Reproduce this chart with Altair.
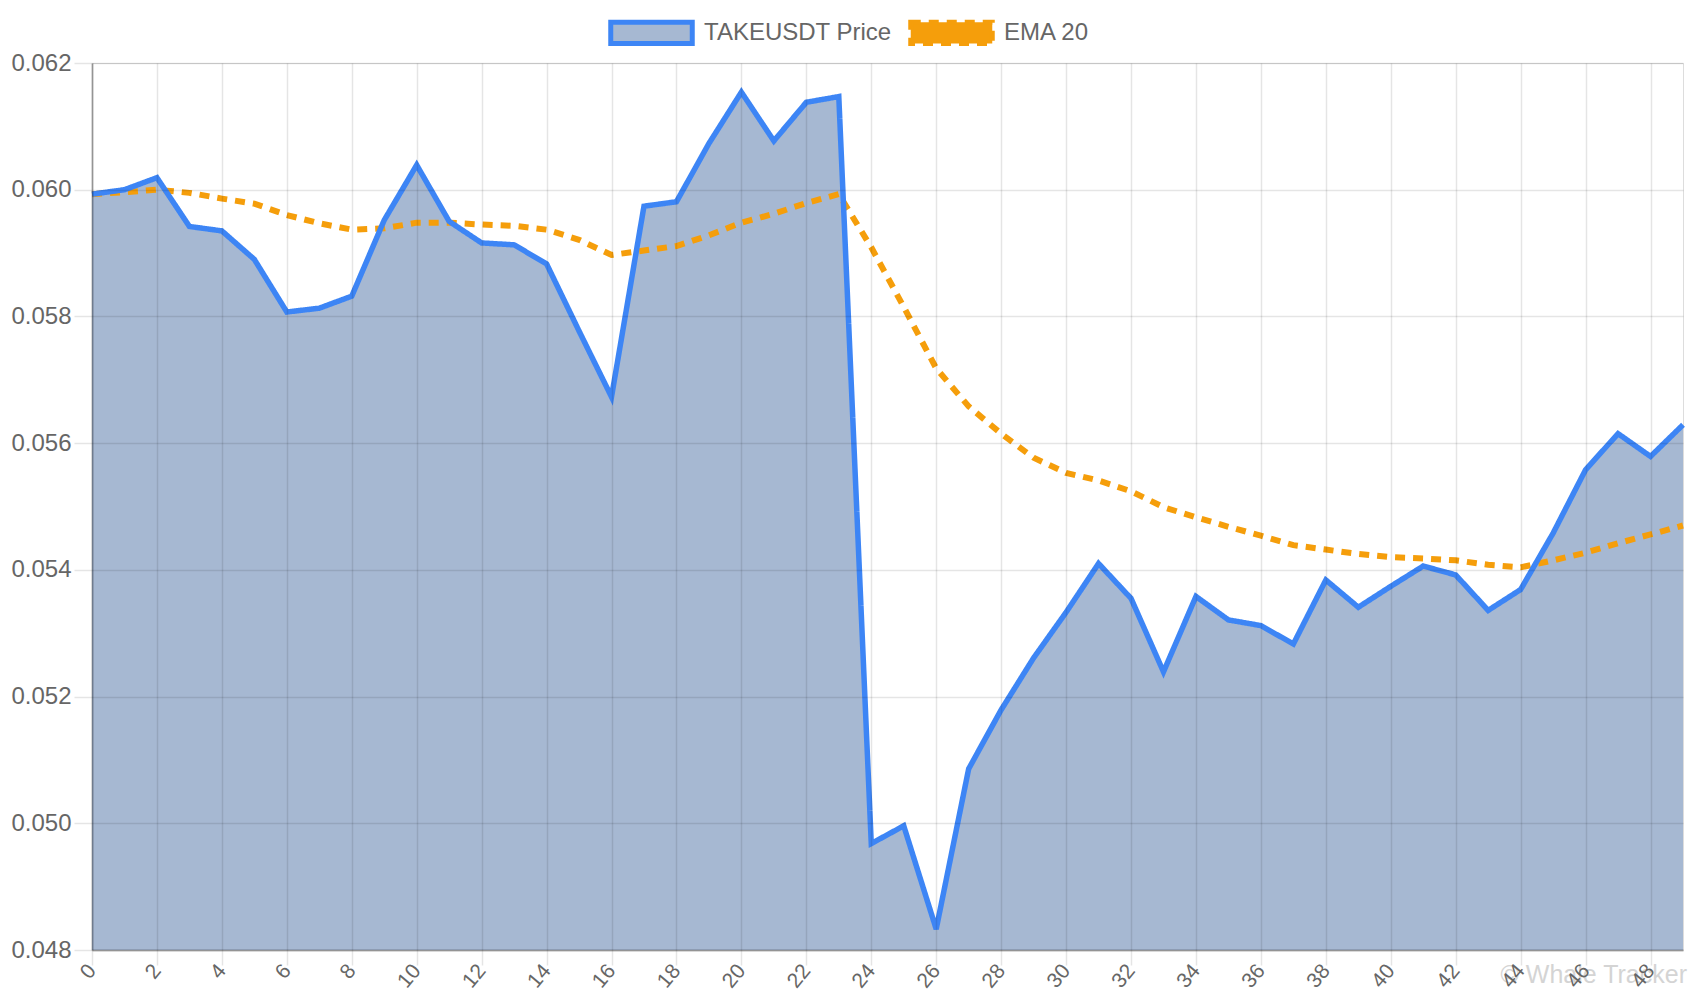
import altair as alt
import pandas as pd

# ---- data ----
x_idx = list(range(50))
price = [0.05993, 0.06000, 0.06019, 0.05942, 0.05935, 0.05890, 0.05807, 0.05813, 0.05832, 0.05952,
         0.06039, 0.05950, 0.05916, 0.05913, 0.05883, 0.05777, 0.05673, 0.05974, 0.05981, 0.06073,
         0.06154, 0.06077, 0.06138, 0.06147, 0.04968, 0.04996, 0.04833, 0.05086, 0.05179, 0.05261,
         0.05333, 0.05410, 0.05355, 0.05239, 0.05358, 0.05321, 0.05312, 0.05283, 0.05384, 0.05341,
         0.05374, 0.05406, 0.05392, 0.05336, 0.05369, 0.05458, 0.05558, 0.05615, 0.05579, 0.05629]
ema = [0.05993, 0.05996, 0.06000, 0.05995, 0.05986, 0.05978, 0.05960, 0.05947, 0.05937, 0.05939,
       0.05948, 0.05948, 0.05945, 0.05943, 0.05937, 0.05921, 0.05897, 0.05904, 0.05911, 0.05928,
       0.05948, 0.05962, 0.05979, 0.05993, 0.05909, 0.05815, 0.05718, 0.05658, 0.05615, 0.05577,
       0.05553, 0.05541, 0.05524, 0.05499, 0.05483, 0.05468, 0.05454, 0.05439, 0.05432, 0.05425,
       0.05420, 0.05418, 0.05415, 0.05408, 0.05404, 0.05415, 0.05427, 0.05442, 0.05456, 0.05470]
series_names = ["TAKEUSDT Price", "EMA 20"]
y_ticks = [0.048, 0.050, 0.052, 0.054, 0.056, 0.058, 0.060, 0.062]
x_ticks = list(range(0, 49, 2))
watermark = "© Whale Tracker"

df_price = pd.DataFrame({"x": x_idx, "value": price, "series": series_names[0]})
df_ema = pd.DataFrame({"x": x_idx, "value": ema, "series": series_names[1]})

FONT = "Liberation Sans"
GRID = "rgba(0,0,0,0.1)"

xs = alt.Scale(domain=[0, 49], nice=False, zero=False)
ys = alt.Scale(domain=[0.048, 0.062], nice=False, zero=False)

X = alt.X("x:Q", scale=xs, axis=alt.Axis(
    values=x_ticks, format="d", labelAngle=-50, title=None, grid=True,
    gridColor=GRID, gridWidth=1.5, tickColor=GRID, tickWidth=1.5, tickSize=15,
    domainColor="rgba(0,0,0,0.25)", domainWidth=2, labelFont=FONT, labelFontSize=21,
    labelColor="#666", labelPadding=2, zindex=1, labelOverlap=False))
Y = alt.Y("value:Q", scale=ys, axis=alt.Axis(
    values=y_ticks, format=".3f", title=None, grid=True,
    gridColor=GRID, gridWidth=1.5, tickColor=GRID, tickWidth=1.5, tickSize=18,
    domainColor="rgba(0,0,0,0.25)", domainWidth=2, labelFont=FONT, labelFontSize=24,
    labelColor="#666", labelPadding=3, zindex=1, labelOverlap=False))

legend = alt.Legend(
    title=None, orient="none", legendX=532, legendY=-58, direction="horizontal",
    symbolType="M-1.65,-0.43H1.65V0.43H-1.65Z", symbolSize=2440, symbolStrokeWidth=5,
    labelFont=FONT, labelFontSize=24, labelColor="#666", labelOffset=25,
    labelLimit=0, columnPadding=8)

fill_scale = alt.Scale(domain=series_names, range=["#a6b8d2", "#f59e0b"])
stroke_scale = alt.Scale(domain=series_names, range=["#3d85f5", "#f59e0b"])
dash_scale = alt.Scale(domain=series_names, range=[[1, 0], [10, 8]])

area = alt.Chart(df_price).mark_area(clip=True).encode(
    x=X, y=Y, fill=alt.Fill("series:N", scale=fill_scale, legend=legend))


def line_layer(df, w):
    return alt.Chart(df).mark_line(strokeWidth=w).encode(
        x=X, y=Y,
        stroke=alt.Stroke("series:N", scale=stroke_scale, legend=legend),
        strokeDash=alt.StrokeDash("series:N", scale=dash_scale, legend=legend))


chart = alt.layer(area, line_layer(df_ema, 6), line_layer(df_price, 5.5)).properties(
    width=1591, height=887,
    padding={"left": 84, "top": 55, "right": 9, "bottom": 42},
    autosize=alt.AutoSizeParams(type="none"),
    title=alt.TitleParams(watermark, orient="bottom", anchor="end", frame="group",
                          fontSize=25, font=FONT, fontWeight="normal", color="#d4d4d4",
                          dy=-32, dx=4),
).configure_view(stroke=None).configure(background="white")

chart.save("out.html", embed_options={"renderer": "svg", "actions": False})
